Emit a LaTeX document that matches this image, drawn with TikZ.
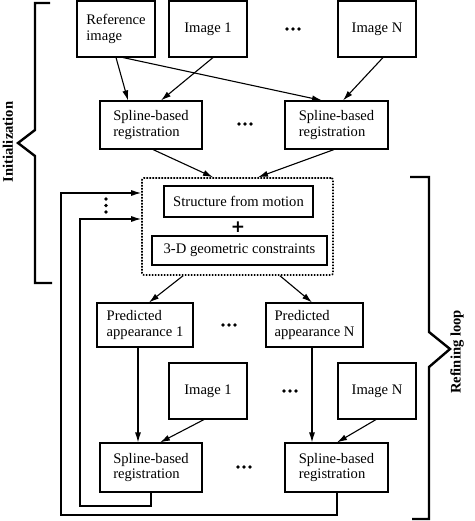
\documentclass[tikz,border=0pt]{standalone}
\usepackage{fontspec}
\setmainfont{Liberation Serif}
\newfontfamily\plusfont{DejaVu Sans}
\usetikzlibrary{arrows.meta}
\begin{document}
\begin{tikzpicture}[x=1pt,y=-1pt,
  font=\fontsize{14.6pt}{15.5pt}\selectfont,
  box/.style={draw, line width=1.1pt, inner sep=2pt, align=left},
  arr/.style={line width=1.1pt, -{Latex[length=10pt,width=6pt]}},
  brk/.style={line width=2.4pt},
  dotbox/.style={draw, line width=1.6pt, dash pattern=on 1.6pt off 1.4pt, rounded corners=2pt},
  dotmark/.style={fill, circle, inner sep=0pt, minimum size=3.6pt}]
\useasboundingbox (0,0) rectangle (474,521);

% top row
\node[box, minimum width=78pt, minimum height=56pt] (ref) at (116,29) {Reference\\image};
\node[box, minimum width=78pt, minimum height=56pt] (img1) at (208,29) {Image 1};
\node[box, minimum width=78pt, minimum height=56pt] (imgN) at (377,29) {Image N};
\node[dotmark] (d1a) at (287,29) {}; \node[dotmark] (d1b) at (293,29) {}; \node[dotmark] (d1c) at (299,29) {};

% first registrations
\node[box, minimum width=102pt, minimum height=48pt] (sp1) at (151,125) {Spline-based\\registration};
\node[box, minimum width=103pt, minimum height=48pt] (spN) at (336.5,125) {Spline-based\\registration};
\node[dotmark] (d2a) at (239,124) {}; \node[dotmark] (d2b) at (245,124) {}; \node[dotmark] (d2c) at (251,124) {};

% structure from motion block
\node[dotbox, minimum width=191pt, minimum height=97pt] (dot) at (237.5,226.5) {};
\node[box, minimum width=149pt, minimum height=31pt, align=center] (sfm) at (238.5,201.5) {Structure from motion};
\node[font=\plusfont\fontsize{17pt}{18pt}\selectfont\bfseries, inner sep=0pt] (plus) at (238,227) {+};
\node[box, minimum width=175pt, minimum height=29pt, align=center] (geo) at (239.5,250.5) {3-D geometric constraints};

% predicted appearances
\node[box, minimum width=96pt, minimum height=44pt] (pred1) at (145,325) {Predicted\\appearance 1};
\node[box, minimum width=97pt, minimum height=44pt] (predN) at (314.5,325) {Predicted\\appearance N};
\node[dotmark] (d3a) at (223,325) {}; \node[dotmark] (d3b) at (229,325) {}; \node[dotmark] (d3c) at (235,325) {};

% lower images
\node[box, minimum width=78pt, minimum height=56pt] (img1b) at (208,391) {Image 1};
\node[box, minimum width=78pt, minimum height=56pt] (imgNb) at (377,391) {Image N};
\node[dotmark] (d4a) at (284,391) {}; \node[dotmark] (d4b) at (290,391) {}; \node[dotmark] (d4c) at (296,391) {};

% lower registrations
\node[box, minimum width=102pt, minimum height=49pt] (sp1b) at (151,467.5) {Spline-based\\registration};
\node[box, minimum width=103pt, minimum height=49pt] (spNb) at (336.5,467.5) {Spline-based\\registration};
\node[dotmark] (d5a) at (238,467) {}; \node[dotmark] (d5b) at (244,467) {}; \node[dotmark] (d5c) at (250,467) {};

% vertical dots
\node[dotmark] (v1) at (106,199) {}; \node[dotmark] (v2) at (106,205.5) {}; \node[dotmark] (v3) at (106,212) {};

% arrows top
\draw[arr] (ref.south) -- ([xshift=-23pt]sp1.north);
\draw[arr] ([xshift=5pt]img1.south) -- ([xshift=10pt]sp1.north);
\draw[arr] ([xshift=7pt]ref.south) -- ([xshift=-14.5pt]spN.north);
\draw[arr] ([xshift=6pt]imgN.south) -- ([xshift=6.5pt]spN.north);
\draw[arr] ([xshift=2pt]sp1.south) -- ([xshift=-24.5pt]dot.north);
\draw[arr] ([xshift=-2.5pt]spN.south) -- ([xshift=20.5pt]dot.north);
\draw[arr] ([xshift=-54.5pt]dot.south) -- ([xshift=4pt]pred1.north);
\draw[arr] ([xshift=42.5pt]dot.south) -- ([xshift=-2.5pt]predN.north);
\draw[arr] ([xshift=-7pt]pred1.south) -- ([xshift=-13pt]sp1b.north);
\draw[arr] ([xshift=-4pt]img1b.south) -- ([xshift=9pt]sp1b.north);
\draw[arr] ([xshift=-2.5pt]predN.south) -- ([xshift=-24.5pt]spNb.north);
\draw[arr] ([xshift=-1pt]imgNb.south) -- ([xshift=0.5pt]spNb.north);

% feedback loops
\coordinate (o2) at (61,515);
\coordinate (i2) at (80,506);
\draw[arr] ([xshift=0.5pt]spNb.south) |- (o2) |- ([yshift=33.5pt]dot.west);
\draw[arr] (sp1b.south) |- (i2) |- ([yshift=7.5pt]dot.west);

% brackets
\draw[brk] (50,3) -- (35,3) -- (35,130) -- (18,143) -- (35,156) -- (35,283) -- (52,283);
\draw[brk] (410,177) -- (429,177) -- (429,332) -- (450,349) -- (429,367) -- (429,519) -- (412,519);
\node[rotate=90, font=\fontsize{14.6pt}{15.5pt}\selectfont\bfseries, inner sep=0pt] (init) at (8,142) {Initialization};
\node[rotate=90, font=\fontsize{14.6pt}{15.5pt}\selectfont\bfseries, inner sep=0pt] (refl) at (457,352) {Refining loop};
\end{tikzpicture}
\end{document}
